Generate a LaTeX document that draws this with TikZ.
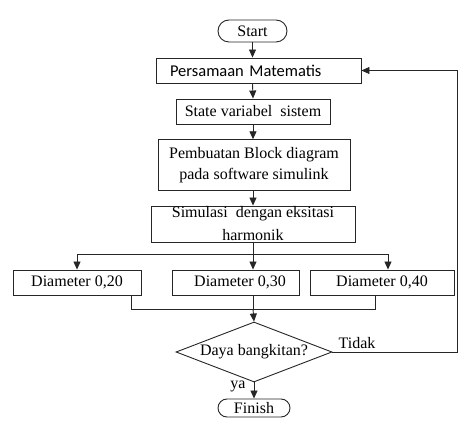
\documentclass[tikz,border=0pt]{standalone}
\usepackage{fontspec}
\setmainfont{Liberation Serif}
\newfontfamily\calfont{Carlito}
\usetikzlibrary{shapes.geometric,arrows.meta}
\begin{document}
\begin{tikzpicture}[x=1pt,y=-1pt,
  every node/.style={font=\fontsize{16}{21}\selectfont, text=black},
  box/.style={draw=black!85, line width=0.9pt, inner sep=0pt, align=center},
  arr/.style={draw=black!85, -{Triangle[length=8pt,width=7pt]}, line width=0.9pt},
  ln/.style={draw=black!85, line width=0.9pt}]
\useasboundingbox (0,0) rectangle (474,427);
\node[box, rounded corners=11pt, minimum width=69pt, minimum height=22pt] (start) at (252.5,31) {Start};
\node[box, minimum width=205pt, minimum height=25pt, inner xsep=14pt, text width=177pt, align=left, font=\calfont\fontsize{16.5}{20}\selectfont] (pm) at (258.5,70.5) {Persamaan Matematis};
\node[box, minimum width=154pt, minimum height=25pt] (sv) at (253,111.5) {State variabel\ \ sistem};
\node[box, minimum width=192pt, minimum height=50.5pt, font=\fontsize{16}{21}\selectfont] (pb) at (254,165) {Pembuatan Block diagram\\pada software simulink};
\node[box, minimum width=204pt, minimum height=36pt, font=\fontsize{16}{23}\selectfont] (sim) at (253,224) {Simulasi\ \ dengan eksitasi\\harmonik};
\node[box, minimum width=128pt, minimum height=25pt] (d1) at (77,282.5) {Diameter 0,20};
\node[box, minimum width=127pt, minimum height=25pt] (d2) at (235.5,282.5) {\hspace*{9pt}Diameter 0,30};
\node[box, minimum width=144pt, minimum height=25pt] (d3) at (382,282.5) {Diameter 0,40};
\node[box, shape=diamond, aspect=2.6, minimum width=156pt, minimum height=60pt] (dia) at (254,352) {Daya bangkitan?};
\node[box, rounded corners=9pt, minimum width=72pt, minimum height=18pt] (fin) at (254,408) {Finish};
\node (tidak) at (357,343) {Tidak};
\node (ya) at (238,386) {ya};
\coordinate (br) at (253,254);
\coordinate (mg) at (253,309);
\coordinate (rt) at (457,352);
\draw[arr] (start.south) -- (start.south |- pm.north);
\draw[arr] (start.south |- pm.south) -- (sv.north);
\draw[arr] (sv.south) -- (sv.south |- pb.north);
\draw[arr] (sv.south |- pb.south) -- (sv.south |- sim.north);
\draw[ln] (br |- sim.south) -- (br);
\draw[arr] (br) -| (d1.north);
\draw[arr] (br) -- (br |- d2.north);
\draw[arr] (br) -| ([xshift=6pt]d3.north);
\draw[ln] ([xshift=-10pt]d1.south east) |- (mg);
\draw[ln] ([xshift=-7pt]d3.south) |- (mg);
\draw[ln] (mg |- d2.south) -- (mg);
\draw[arr] (mg) -- (dia.north);
\draw[arr] (dia.south) -- (fin.north);
\draw[arr] (dia.east) -- (rt) |- (pm.east);
\end{tikzpicture}
\end{document}
